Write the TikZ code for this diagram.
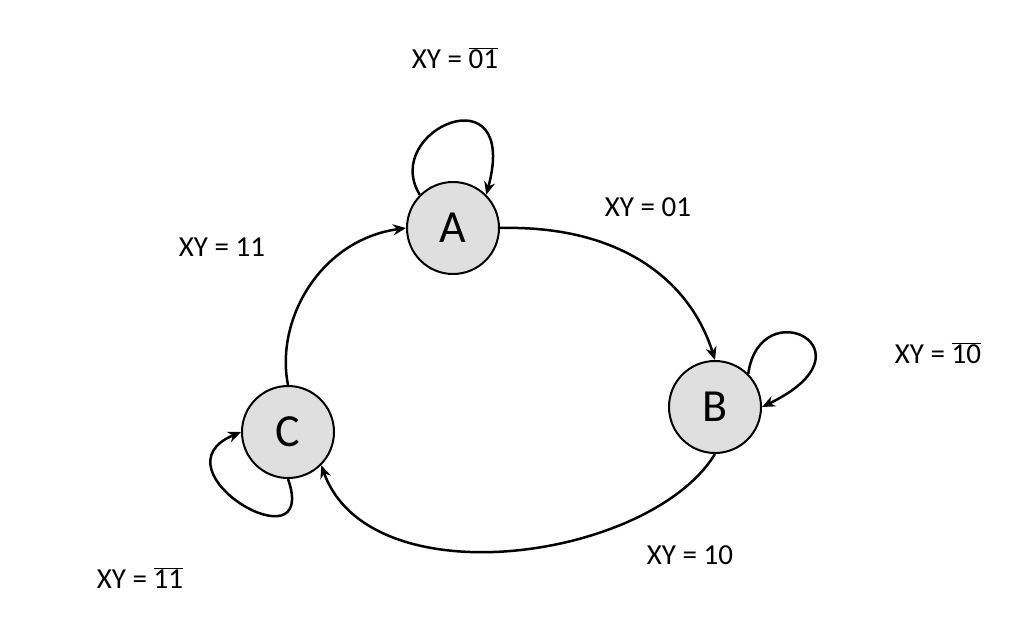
\documentclass[tikz,border=0pt]{standalone}
\usepackage{fontspec}
\setmainfont{Carlito}
\usetikzlibrary{arrows.meta}
\begin{document}
\begin{tikzpicture}[x=1pt,y=-1pt,
  st/.style={circle,draw,line width=2pt,fill=gray!25,minimum size=92pt,inner sep=0pt,font=\fontsize{46}{46}\selectfont},
  lbl/.style={font=\fontsize{29}{29}\selectfont},
  ar/.style={line width=2.5pt,-{Stealth[length=13pt,width=11pt]}}]
\useasboundingbox (0,0) rectangle (1024,620);
\node[st] (A) at (453,228) {A};
\node[st] (B) at (715,407) {B};
\node[st] (C) at (288,432) {C};
\draw[ar] (A.east) .. controls (620,225) and (690,280) .. (B.north);
\draw[ar] (B.south) .. controls (650,560) and (370,600) .. (C.south east);
\draw[ar] (C.north) .. controls (275,320) and (320,240) .. (A.west);
\draw[ar] (A.north west) .. controls (380,130) and (520,70) .. (A.north east);
\draw[ar] (B.north east) .. controls (760,290) and (880,350) .. (B.east);
\draw[ar] (C.south) .. controls (320,570) and (150,470) .. (C.west);
\node[lbl] (t1) at (455,58) {XY = $\overline{\mbox{01}}$};
\node[lbl] (t2) at (648,207) {XY = 01};
\node[lbl] (t3) at (222,247) {XY = 11};
\node[lbl] (t4) at (938,353) {XY = $\overline{\mbox{10}}$};
\node[lbl] (t5) at (690,555) {XY = 10};
\node[lbl] (t6) at (140,578) {XY = $\overline{\mbox{11}}$};
\end{tikzpicture}
\end{document}
